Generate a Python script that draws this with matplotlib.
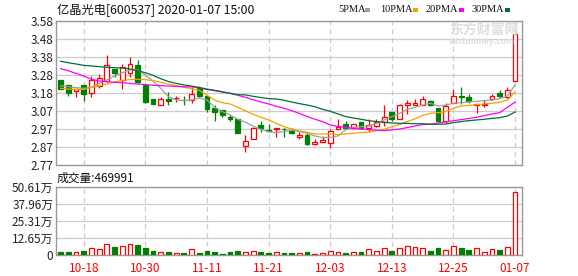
import matplotlib
matplotlib.use("Agg")
import matplotlib.pyplot as plt
from matplotlib.patches import Rectangle
import numpy as np
import pandas as pd

plt.rcParams['font.family'] = ['Noto Sans CJK SC', 'DejaVu Sans']

# trading days shown (2020-01-01 is a holiday)
dates = [d for d in pd.bdate_range('2019-10-15', '2020-01-07') if d != pd.Timestamp('2020-01-01')]
tick_labels = ['10-18', '10-30', '11-11', '11-21', '12-03', '12-13', '12-25', '01-07']

open_ = [3.25, 3.22, 3.186, 3.22, 3.175, 3.216, 3.246, 3.31, 3.252, 3.288,
         3.333, 3.222, 3.143, 3.107, 3.143, 3.147, 3.137, 3.137, 3.206, 3.16,
         3.092, 3.081, 3.044, 3.031, 2.877, 2.916, 2.999, 2.97, 2.974, 2.976,
         2.963, 2.931, 2.943, 2.892, 2.903, 2.894, 2.976, 3.001, 2.982, 3.012,
         2.978, 2.991, 3.016, 3.068, 3.029, 3.107, 3.107, 3.107, 3.13, 3.092,
         3.021, 3.121, 3.16, 3.154, 3.109, 3.107, 3.143, 3.177, 3.156, 3.244]
close = [3.20, 3.175, 3.199, 3.173, 3.25, 3.259, 3.333, 3.291, 3.321, 3.34,
         3.237, 3.125, 3.117, 3.143, 3.134, 3.15, 3.135, 3.171, 3.161, 3.085,
         3.07, 3.055, 3.032, 2.95, 2.909, 2.978, 2.982, 2.965, 2.978, 2.972,
         2.95, 2.943, 2.89, 2.901, 2.914, 2.961, 2.984, 2.982, 3.001, 2.982,
         2.999, 3.014, 3.04, 3.03, 3.111, 3.118, 3.118, 3.141, 3.111, 3.021,
         3.104, 3.16, 3.155, 3.132, 3.115, 3.113, 3.158, 3.162, 3.192, 3.51]
high = [3.25, 3.22, 3.20, 3.22, 3.27, 3.284, 3.391, 3.31, 3.34, 3.377,
        3.36, 3.23, 3.143, 3.152, 3.182, 3.16, 3.16, 3.213, 3.214, 3.16,
        3.107, 3.081, 3.055, 3.031, 2.939, 2.987, 3.02, 3.0, 2.981, 2.978,
        2.979, 2.956, 2.95, 2.916, 2.937, 2.972, 3.032, 3.017, 3.001, 3.012,
        3.028, 3.028, 3.11, 3.068, 3.116, 3.135, 3.143, 3.16, 3.137, 3.092,
        3.118, 3.199, 3.21, 3.171, 3.115, 3.139, 3.173, 3.192, 3.21, 3.51]
low = [3.20, 3.162, 3.156, 3.132, 3.156, 3.203, 3.237, 3.269, 3.201, 3.265,
       3.231, 3.12, 3.114, 3.107, 3.112, 3.126, 3.11, 3.122, 3.156, 3.072,
       3.021, 3.044, 3.017, 2.95, 2.843, 2.916, 2.96, 2.96, 2.932, 2.932,
       2.945, 2.916, 2.884, 2.884, 2.903, 2.869, 2.976, 2.982, 2.974, 2.974,
       2.957, 2.984, 2.991, 3.019, 3.029, 3.058, 3.107, 3.107, 3.104, 3.015,
       3.006, 3.121, 3.114, 3.118, 3.062, 3.096, 3.137, 3.149, 3.151, 3.244]

# moving averages
ma5 = [3.218, 3.212, 3.207, 3.203, 3.209, 3.231, 3.250, 3.272, 3.291, 3.306,
       3.306, 3.278, 3.244, 3.203, 3.156, 3.137, 3.134, 3.137, 3.149, 3.137,
       3.096, 3.072, 3.053, 3.029, 3.012, 2.991, 2.972, 2.959, 2.954, 2.959,
       2.969, 2.959, 2.950, 2.935, 2.926, 2.927, 2.935, 2.969, 2.984, 2.987,
       2.991, 3.006, 3.025, 3.044, 3.062, 3.085, 3.096, 3.109, 3.119, 3.104,
       3.109, 3.119, 3.122, 3.126, 3.130, 3.134, 3.137, 3.145, 3.160, 3.222]
ma10 = [3.203, 3.199, 3.197, 3.197, 3.207, 3.216, 3.227, 3.239, 3.248, 3.252,
        3.254, 3.252, 3.246, 3.237, 3.227, 3.218, 3.209, 3.201, 3.192, 3.164,
        3.137, 3.122, 3.115, 3.096, 3.077, 3.057, 3.040, 3.025, 3.006, 2.987,
        2.974, 2.963, 2.956, 2.946, 2.946, 2.946, 2.942, 2.946, 2.950, 2.954,
        2.957, 2.965, 2.972, 2.987, 2.999, 3.016, 3.031, 3.051, 3.062, 3.066,
        3.072, 3.091, 3.104, 3.107, 3.111, 3.115, 3.119, 3.124, 3.137, 3.182]
ma20 = [3.314, 3.302, 3.287, 3.272, 3.254, 3.244, 3.241, 3.237, 3.235, 3.231,
        3.227, 3.224, 3.220, 3.218, 3.216, 3.214, 3.212, 3.211, 3.207, 3.199,
        3.192, 3.184, 3.175, 3.164, 3.152, 3.139, 3.126, 3.115, 3.102, 3.091,
        3.077, 3.062, 3.044, 3.029, 3.016, 2.997, 2.989, 2.984, 2.978, 2.974,
        2.971, 2.967, 2.965, 2.969, 2.974, 2.982, 2.991, 2.999, 3.001, 3.008,
        3.014, 3.021, 3.027, 3.034, 3.040, 3.049, 3.059, 3.066, 3.096, 3.126]
ma30 = [3.355, 3.347, 3.340, 3.332, 3.329, 3.325, 3.321, 3.319, 3.317, 3.312,
        3.302, 3.291, 3.276, 3.257, 3.241, 3.231, 3.222, 3.216, 3.207, 3.197,
        3.190, 3.182, 3.175, 3.167, 3.166, 3.158, 3.151, 3.145, 3.143, 3.136,
        3.126, 3.117, 3.109, 3.100, 3.085, 3.074, 3.059, 3.044, 3.036, 3.029,
        3.021, 3.016, 3.012, 3.008, 3.006, 3.006, 3.004, 3.004, 3.001, 3.001,
        3.002, 3.010, 3.016, 3.021, 3.025, 3.029, 3.034, 3.038, 3.047, 3.070]

volume = [22000, 22000, 20000, 30000, 50000, 45000, 84000, 60000, 64000, 79000,
          74000, 52000, 30000, 20000, 20000, 12000, 15000, 42000, 15000, 30000,
          22000, 7000, 20000, 30000, 25000, 32000, 20000, 15000, 20000, 15000,
          15000, 15000, 22000, 5000, 12000, 27000, 25000, 12000, 20000, 22000,
          42000, 27000, 50000, 30000, 50000, 67000, 57000, 50000, 30000, 52000,
          37000, 67000, 50000, 37000, 52000, 20000, 42000, 35000, 60000, 469991]

price_labels = ['2.77', '2.87', '2.97', '3.07', '3.18', '3.28', '3.38', '3.48', '3.58']
vol_labels = ['0', '12.65万', '25.31万', '37.96万', '50.61万']
p_min, p_max = 2.77, 3.58
v_max = 506100

RED = '#ff0000'
GREEN = '#008000'
GRID = '#cccccc'
FRAME = '#999999'
TXT = '#222222'

W, H = 578, 276
fig = plt.figure(figsize=(W / 100, H / 100), dpi=100)
ax = fig.add_axes([56 / W, 1 - 165.3 / H, 466 / W, 144 / H])
axv = fig.add_axes([56 / W, 1 - 255 / H, 466 / W, 68 / H])

x = np.arange(len(dates))
labels_all = [d.strftime('%m-%d') for d in dates]
tick_pos = [labels_all.index(t) for t in tick_labels]

o = np.array(open_); c = np.array(close)
up = c >= o
body_w = 0.62

# candles
for i in x:
    col = RED if up[i] else GREEN
    ax.vlines(i, low[i], high[i], color=col, lw=0.9, zorder=3)
    b = min(o[i], c[i])
    h = max(abs(c[i] - o[i]), 0.002)
    ax.bar(i, h, body_w, bottom=b, facecolor='white' if up[i] else GREEN,
           edgecolor=col, lw=0.9, zorder=4)

ax.plot(x, ma5, color='#a0a0a0', lw=0.9, zorder=5)
ax.plot(x, ma10, color='#f5a100', lw=0.9, zorder=5)
ax.plot(x, ma20, color='#ff00ff', lw=0.9, zorder=5)
ax.plot(x, ma30, color='#006f35', lw=0.9, zorder=5)

# volume
for i in x:
    col = RED if up[i] else GREEN
    axv.bar(i, volume[i], body_w, facecolor='white' if up[i] else GREEN,
            edgecolor=col, lw=0.9, zorder=4)

for a, ticks, labs, lo, hi in [(ax, np.linspace(p_min, p_max, 9), price_labels, p_min, p_max),
                               (axv, np.linspace(0, v_max, 5), vol_labels, 0, v_max)]:
    a.set_xlim(-0.6, 59.9)
    a.set_ylim(lo, hi)
    a.set_yticks(ticks)
    a.set_yticklabels(labs, fontsize=8.5, color=TXT)
    a.tick_params(axis='y', length=0, pad=2)
    a.set_xticks(tick_pos)
    for t in ticks:
        a.axhline(t, color=GRID, lw=0.9, zorder=1)
    for p in tick_pos:
        a.axvline(p, color=GRID, lw=0.9, ls=(0, (4, 3)), zorder=1)
    for s in a.spines.values():
        s.set_color(FRAME)
        s.set_linewidth(1.0)

ax.tick_params(axis='x', length=0, labelbottom=False)
axv.set_xticklabels(tick_labels, fontsize=8.5, color=RED)
axv.tick_params(axis='x', length=0, pad=5)

# header
fig.text(57 / W, 1 - 10 / H, '亿晶光电[600537] 2020-01-07 15:00', fontsize=8.8,
         color='#111111', va='center', ha='left')
legend = [('5PMA', '#a0a0a0', 338), ('10PMA', '#f5a100', 380),
          ('20PMA', '#ff00ff', 426), ('30PMA', '#006f35', 472)]
for name, col, px in legend:
    fig.text(px / W, 1 - 10 / H, name, fontsize=7.5, family='Liberation Serif',
             color='#111111', va='center', ha='left')
    sx = px + len(name) * 6.0 + 3
    fig.patches.append(Rectangle((sx / W, 1 - 11.5 / H), 5 / W, 3 / H,
                                 transform=fig.transFigure, facecolor=col,
                                 edgecolor='none'))

fig.text(57 / W, 1 - 178 / H, '成交量:469991', fontsize=8.5, color='#111111',
         va='center', ha='left')

# watermark
fig.text(449 / W, 1 - 30 / H, '东方财富网', fontsize=10, color='#dedede',
         va='center', ha='left', weight='bold')
fig.text(449 / W, 1 - 42 / H, 'eastmoney.com', fontsize=6, color='#dedede',
         va='center', ha='left', weight='bold')

fig.savefig('out.png', dpi=100)
